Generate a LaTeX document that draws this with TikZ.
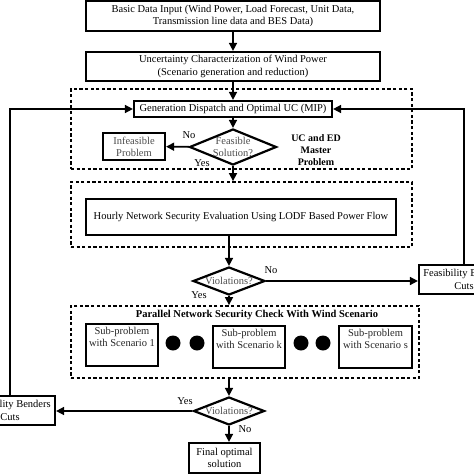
\documentclass[tikz,border=0pt]{standalone}
\usepackage{fontspec}
\setmainfont{Liberation Serif}
\usetikzlibrary{positioning,arrows.meta,shapes.geometric}
\tikzset{blk/.style={draw,line width=2.2pt,rectangle,align=center,inner sep=1pt,text=black},
dbox/.style={draw,line width=1.8pt,dash pattern=on 3.2pt off 2.4pt,rectangle,inner sep=0pt}}
\tikzstyle{dia}   = [diamond, draw, line width=2.2pt, inner sep=0pt]
\tikzstyle{arrow} = [line width=1.6pt,-{Triangle[length=8pt,width=8pt]}]

\begin{document}
\begin{tikzpicture}[x=1pt,y=-1pt,font=\fontsize{10.5}{12.5}\selectfont,
		lbl/.style={font=\fontsize{10.5}{12}\selectfont,text=black!70,align=center},
		dot/.style={circle,fill=black,minimum size=15pt,inner sep=0pt}]
	\useasboundingbox (0,0) rectangle (474,474);
	\node[dbox,minimum width=341pt,minimum height=80pt] (master) at (241.5,129) {};
	\node[dbox,minimum width=341pt,minimum height=65pt] (secbox) at (241.5,214.5) {};
	\node[dbox,minimum width=348pt,minimum height=72pt] (parbox) at (245,342) {};

	\node[blk,minimum width=294pt,minimum height=30pt] (input) at (233,16) {Basic Data Input (Wind Power, Load Forecast, Unit Data,\\Transmission line data and BES Data)};
	\node[blk,minimum width=294pt,minimum height=29pt] (uncert) at (233,66.5) {Uncertainty Characterization of Wind Power\\(Scenario generation and reduction)};
	\node[blk,minimum width=198pt,minimum height=16pt] (gen) at (233,109) {Generation Dispatch and Optimal UC (MIP)};
	\node[dia,minimum width=87pt,minimum height=36pt,label={[lbl]center:{Feasible\\Solution?}}] (feas) at (233,147) {};
	\node[blk,lbl,minimum width=62pt,minimum height=27pt] (infeas) at (134,146.5) {Infeasible\\Problem};
	\node[font=\bfseries\fontsize{10}{12}\selectfont,align=center] (mastername) at (316,150) {UC and ED\\Master\\Problem};
	\node (feasno) at (189,135) {No};
	\node (feasyes) at (202,163) {Yes};

	\node[blk,minimum width=310pt,minimum height=36pt] (hourly) at (241,217) {Hourly Network Security Evaluation Using LODF Based Power Flow};
	\node[dia,minimum width=72pt,minimum height=28pt,label={[lbl]center:Violations?}] (viol1) at (229,281) {};
	\node (viol1no) at (271,270) {No};
	\node (viol1yes) at (199,295) {Yes};
	\node[blk,minimum width=90pt,minimum height=29pt] (rfeas) at (464,279.5) {Feasibility Benders\\Cuts};

	\node[font=\bfseries\fontsize{10.5}{12.5}\selectfont] (partitle) at (257,315) {Parallel Network Security Check With Wind Scenario};
	\node[blk,minimum width=72pt,minimum height=42pt,label={[lbl,text=black!85,anchor=north,yshift=-1pt]north:{Sub-problem\\with Scenario 1}}] (sub1) at (122,345) {};
	\node[blk,minimum width=72pt,minimum height=42pt,label={[lbl,text=black!85,anchor=north,yshift=-1pt]north:{Sub-problem\\with Scenario k}}] (subk) at (249,347) {};
	\node[blk,minimum width=73pt,minimum height=42pt,label={[lbl,text=black!85,anchor=north,yshift=-1pt]north:{Sub-problem\\with Scenario s}}] (subs) at (375.5,347) {};
	\foreach \i/\px in {1/173,2/197,3/301,4/323}
		\node[dot] (dot\i) at (\px,343) {};

	\node[dia,minimum width=71pt,minimum height=28pt,label={[lbl]center:Violations?}] (viol2) at (229,411) {};
	\node (viol2yes) at (185,401) {Yes};
	\node (viol2no) at (245,429) {No};
	\node[blk,minimum width=90pt,minimum height=29pt] (lfeas) at (10,410.5) {Feasibility Benders\\Cuts};
	\node[blk,minimum width=71pt,minimum height=30pt] (final) at (224.5,458) {Final optimal\\solution};

	\draw[arrow] (input) -- (uncert);
	\draw[arrow] (uncert) -- (gen);
	\draw[arrow] (gen) -- (feas);
	\draw[arrow] (feas) -- (infeas);
	\draw[arrow] (feas.south) -- (secbox.north -| feas.south);
	\draw[arrow] (hourly.south -| viol1.north) -- (viol1);
	\draw[arrow] (viol1.east) -- (viol1.east -| rfeas.west);
	\draw[arrow] (viol1) -- (parbox.north -| viol1.south);
	\draw[arrow] (parbox.south -| viol2.north) -- (viol2);
	\draw[arrow] (viol2.west) -- (viol2.west -| lfeas.east);
	\draw[arrow] (viol2.south) -- (viol2.south |- final.north);
	\draw[arrow] (lfeas.north) |- (gen.west);
	\draw[arrow] (rfeas.north) |- (gen.east);
\end{tikzpicture}
\end{document}
